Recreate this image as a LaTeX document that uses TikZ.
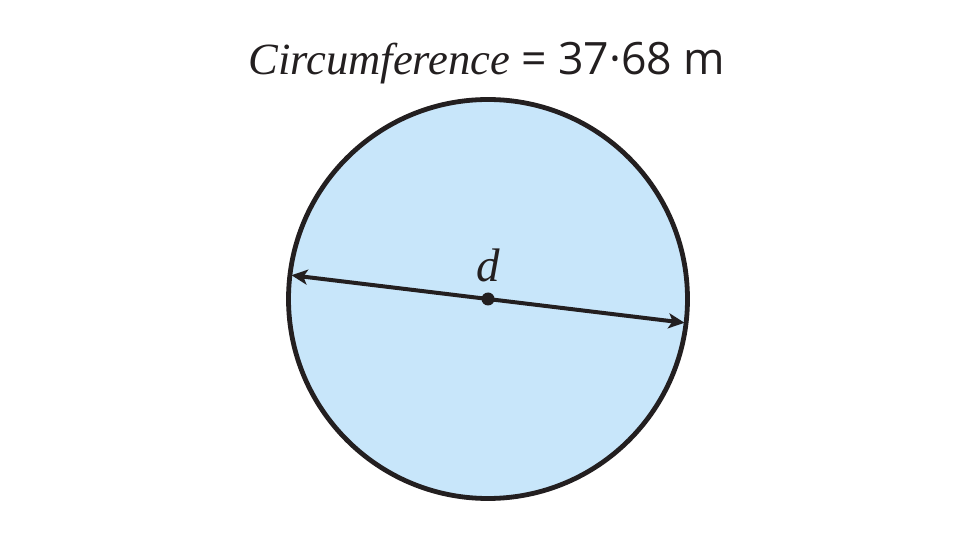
\documentclass[tikz,border=0pt]{standalone}
\usepackage{fontspec}
\setmainfont{Liberation Serif}
\newfontfamily\sansf{Open Sans}
\usetikzlibrary{arrows.meta,calc}
\definecolor{fillblue}{HTML}{C8E6FA}
\definecolor{ink}{HTML}{231F20}
\tikzset{
  ring/.style={draw=ink, line width=4.8pt, fill=fillblue},
  diam/.style={draw=ink, line width=4pt, {Stealth[length=16pt,width=15pt,inset=4pt]}-{Stealth[length=16pt,width=15pt,inset=4pt]}},
}
\begin{document}
\begin{tikzpicture}[x=1pt,y=1pt]
\useasboundingbox (0,0) rectangle (976,549);
\fill[white] (0,0) rectangle (976,549);
\coordinate (c) at (488,250);
\draw[ring] (c) circle (199.5);
\coordinate (pl) at ($(c)+(173.1:198)$);
\coordinate (pr) at ($(c)+(-6.9:198)$);
\draw[diam] (pl) -- (pr);
\fill[ink] (c) circle (6.5);
\node[font=\fontsize{47}{47}\selectfont\itshape, text=ink, anchor=base] (dl) at (488,267) {d};
\node[text=ink, anchor=base] (title) at (487,474) {\fontsize{44.6}{44.6}\selectfont\textit{Circumference} \sansf = 37·68 m};
\end{tikzpicture}
\end{document}
